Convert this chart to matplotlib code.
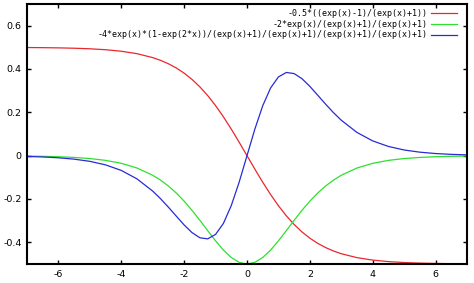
import numpy as np
import matplotlib
matplotlib.use("Agg")
import matplotlib.pyplot as plt

# sample points
x_pos = [0, 0.25, 0.5, 0.75, 1, 1.25, 1.5, 1.75, 2, 2.25, 2.5, 2.75, 3,
         3.5, 4, 4.5, 5, 5.5, 6, 6.5, 7]
red_pos = [0, -0.0622, -0.1225, -0.1792, -0.2311, -0.2773, -0.3176, -0.3520,
           -0.3808, -0.4047, -0.4241, -0.4399, -0.4526, -0.4707, -0.4820,
           -0.4890, -0.4933, -0.4959, -0.4975, -0.4985, -0.4991]
green_pos = [-0.5, -0.4923, -0.4700, -0.4358, -0.3932, -0.3462, -0.2983,
             -0.2522, -0.2100, -0.1724, -0.1402, -0.1130, -0.0904, -0.0569,
             -0.0353, -0.0217, -0.0133, -0.0081, -0.0049, -0.0030, -0.0018]
blue_pos = [0, 0.1225, 0.2302, 0.3124, 0.3634, 0.3840, 0.3789, 0.3551,
            0.3198, 0.2791, 0.2379, 0.1988, 0.1636, 0.1071, 0.0681, 0.0425,
            0.0262, 0.0161, 0.0098, 0.0060, 0.0036]

# the curves are odd / even / odd about x = 0
x = np.concatenate([-np.array(x_pos[:0:-1]), x_pos])
red = np.concatenate([-np.array(red_pos[:0:-1]), red_pos])
green = np.concatenate([np.array(green_pos[:0:-1]), green_pos])
blue = np.concatenate([-np.array(blue_pos[:0:-1]), blue_pos])

labels = ["-0.5*((exp(x)-1)/(exp(x)+1))",
          "-2*exp(x)/(exp(x)+1)/(exp(x)+1)",
          "-4*exp(x)*(1-exp(2*x))/(exp(x)+1)/(exp(x)+1)/(exp(x)+1)/(exp(x)+1)"]
colors = ["#e8282e", "#2ee02e", "#2a2ad6"]

fig = plt.figure(figsize=(4.74, 2.83), dpi=100)
ax = fig.add_axes([27 / 474, 1 - 264 / 283, 440 / 474, 260 / 283])

for y, c in zip([red, green, blue], colors):
    ax.plot(x, y, color=c, lw=0.9)

ax.set_xlim(-7, 7)
ax.set_ylim(-0.5, 0.7)
ax.set_xticks([-6, -4, -2, 0, 2, 4, 6])
ax.set_yticks([-0.4, -0.2, 0, 0.2, 0.4, 0.6])
ax.set_xticklabels(["-6", "-4", "-2", "0", "2", "4", "6"])
ax.set_yticklabels(["-0.4", "-0.2", "0", "0.2", "0.4", "0.6"])
ax.tick_params(direction="in", length=3, width=1, top=True, right=True,
               labelsize=6.8, pad=4)
for s in ax.spines.values():
    s.set_linewidth(1.5)

# legend, text right-aligned with line samples on the right
rows = [0.965, 0.923, 0.881]
for lab, c, yy in zip(labels, colors, rows):
    ax.text(0.911, yy, lab, transform=ax.transAxes, ha="right", va="center",
            fontsize=6.0, family="DejaVu Sans Mono")
    ax.plot([0.918, 0.977], [yy, yy], color=c, lw=0.9, transform=ax.transAxes)

fig.savefig("out.png", dpi=100)
